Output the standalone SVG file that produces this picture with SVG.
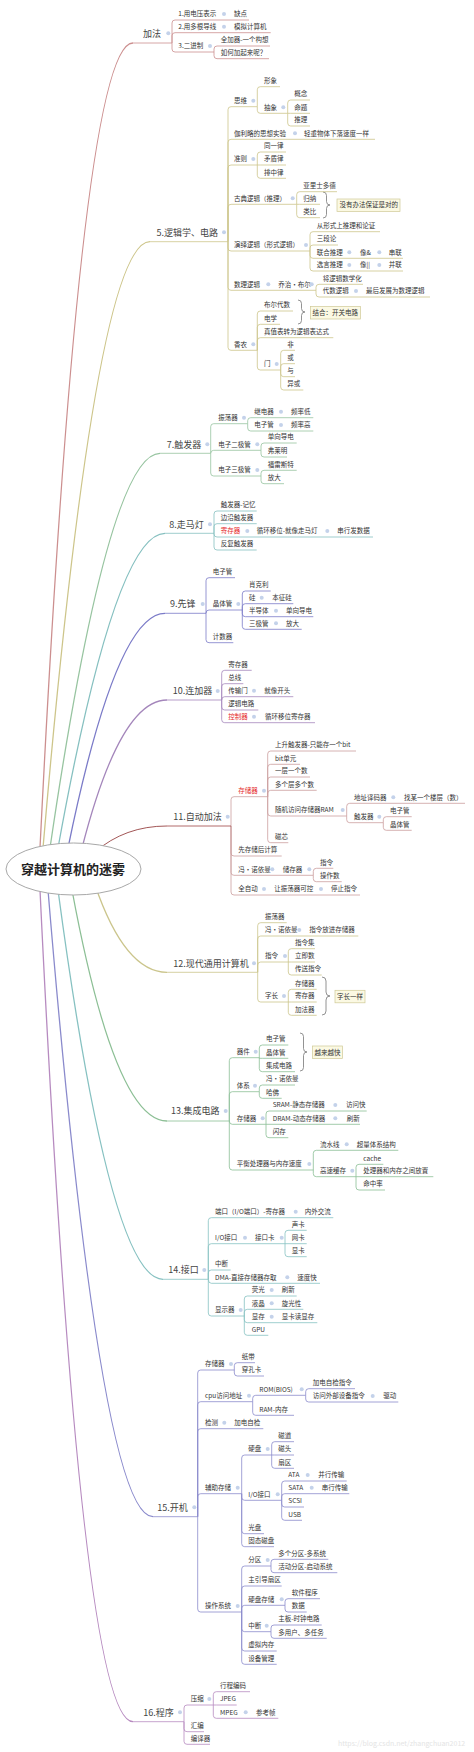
<svg xmlns="http://www.w3.org/2000/svg" width="474" height="1752" viewBox="0 0 474 1752">
<style>
text{font-family:"Noto Sans CJK SC","Noto Sans",sans-serif;font-size:6.5px;fill:#333;stroke:none}
.b{font-size:9px;fill:#444}
.red{fill:#e5281f}
.d{fill:#c4d2ea;stroke:none}
path{fill:none;stroke-width:.8}
.c{stroke-width:1.3}
.k1{stroke:#cc8f8f}.k5{stroke:#cdc58a}.k7{stroke:#97c4a0}.k8{stroke:#86c0c0}.k9{stroke:#7b7bc8}.k10{stroke:#a486bb}
.k11{stroke:#cc9e9e}.k12{stroke:#cbc58c}.k13{stroke:#8cbf95}.k14{stroke:#86c1c1}.k15{stroke:#8a8acc}.k16{stroke:#b78bc0}
.br{stroke:#777}
.bx{fill:#fbf9e3;stroke:#cfc996;stroke-width:.7}
</style>
<rect width="474" height="1752" fill="#fff"/>
<g id="connectors">
<g id="main-curves" class="c">
<path class="k1 c" d="M40 848Q80 43 133 43"/>
<path class="k5 c" d="M43 848Q95 241.7 150 241.7"/>
<path class="k7 c" d="M50 848Q108 453.3 160 453.3"/>
<path class="k8 c" d="M58 848Q115 533.3 165 533.3"/>
<path class="k9 c" d="M68 848Q116 613.3 165 613.3"/>
<path class="k10 c" d="M82 848Q120 700 167 700"/>
<path d="M95 852Q125 826 167 826" stroke="#8a2b2b" stroke-width="2.5"/>
<path class="k12 c" d="M95 885Q125 972.3 167 972.3"/>
<path class="k13 c" d="M72 890Q115 1121 167 1121"/>
<path class="k14 c" d="M58 890Q110 1279.3 163 1279.3"/>
<path class="k15 c" d="M48 890Q100 1516.7 153 1516.7"/>
<path class="k16 c" d="M40 890Q80 1721.7 133 1721.7"/>
</g>
<g class="k1">
<path d="M172 43V23Q172 20 175 20M172 43V35.7Q172 32.7 175 32.7M172 43V49Q172 52 175 52"/>
<path d="M214 52V49Q214 46 217 46M214 52V55.7Q214 58.7 217 58.7"/>
</g>
<g class="k5">
<path d="M228 241.7V109.7Q228 106.7 231 106.7M228 241.7V142.3Q228 139.3 231 139.3M228 241.7V168Q228 165 231 165M228 241.7V207.3Q228 204.3 231 204.3M228 241.7V248Q228 251 231 251M228 241.7V287.3Q228 290.3 231 290.3M228 241.7V347.3Q228 350.3 231 350.3"/>
<path d="M257.3 106.7V89.7Q257.3 86.7 260.3 86.7M257.3 106.7V110.3Q257.3 113.3 260.3 113.3"/>
<path d="M287.7 113.3V103Q287.7 100 290.7 100M287.7 113.3H290.7M287.7 113.3V123Q287.7 126 290.7 126"/>
<path d="M257.3 165V155Q257.3 152 260.3 152M257.3 165H260.3M257.3 165V175.3Q257.3 178.3 260.3 178.3"/>
<path d="M296.7 204.3V194.7Q296.7 191.7 299.7 191.7M296.7 204.3H299.7M296.7 204.3V214.7Q296.7 217.7 299.7 217.7"/>
<path d="M310 251V234.7Q310 231.7 313 231.7M310 251V248Q310 245 313 245M310 251V255.3Q310 258.3 313 258.3M310 251V268Q310 271 313 271"/>
<path d="M316 290.3V287.3Q316 284.3 319 284.3M316 290.3V294Q316 297 319 297"/>
<path d="M257.3 350.3V314Q257.3 311 260.3 311M257.3 350.3V327.3Q257.3 324.3 260.3 324.3M257.3 350.3V340.7Q257.3 337.7 260.3 337.7M257.3 350.3V367Q257.3 370 260.3 370"/>
<path d="M280.7 370V353.3Q280.7 350.3 283.7 350.3M280.7 370V366.7Q280.7 363.7 283.7 363.7M280.7 370V373.7Q280.7 376.7 283.7 376.7M280.7 370V387Q280.7 390 283.7 390"/>
</g>
<g class="k7">
<path d="M210.7 453.3V426.7Q210.7 423.7 213.7 423.7M210.7 453.3Q210.7 450.3 213.7 450.3M210.7 453.3V473Q210.7 476 213.7 476"/>
<path d="M247.7 423.7V420.7Q247.7 417.7 250.7 417.7M247.7 423.7V428Q247.7 431 250.7 431"/>
<path d="M261 450.3V446Q261 443 264 443M261 450.3V454Q261 457 264 457"/>
<path d="M261 476V473.3Q261 470.3 264 470.3M261 476V480.7Q261 483.7 264 483.7"/>
</g>
<g class="k8">
<path d="M214 533.3V514Q214 511 217 511M214 533.3V526.7Q214 523.7 217 523.7M214 533.3V534Q214 537 217 537M214 533.3V547Q214 550 217 550"/>
</g>
<g class="k9">
<path d="M206 613.3V580.7Q206 577.7 209 577.7M206 613.3Q206 610 209 610M206 613.3V639.7Q206 642.7 209 642.7"/>
<path d="M242.3 610V594Q242.3 591 245.3 591M242.3 610V606.7Q242.3 603.7 245.3 603.7M242.3 610V613.7Q242.3 616.7 245.3 616.7M242.3 610V626.3Q242.3 629.3 245.3 629.3"/>
</g>
<g class="k10">
<path d="M221.7 700V673.3Q221.7 670.3 224.7 670.3M221.7 700V686.7Q221.7 683.7 224.7 683.7M221.7 700Q221.7 696.7 224.7 696.7M221.7 700V707Q221.7 710 224.7 710M221.7 700V719.7Q221.7 722.7 224.7 722.7"/>
</g>
<g class="k11">
<path d="M231 826V799.7Q231 796.7 234 796.7M231 826V853Q231 856 234 856M231 826V872.3Q231 875.3 234 875.3M231 826V892Q231 895 234 895"/>
<path d="M267.7 796.7V754Q267.7 751 270.7 751M267.7 796.7V767.3Q267.7 764.3 270.7 764.3M267.7 796.7V780Q267.7 777 270.7 777M267.7 796.7V793.3Q267.7 790.3 270.7 790.3M267.7 796.7V813Q267.7 816 270.7 816M267.7 796.7V839.7Q267.7 842.7 270.7 842.7"/>
<path d="M346.7 816V806.3Q346.7 803.3 349.7 803.3M346.7 816V819.7Q346.7 822.7 349.7 822.7"/>
<path d="M383.3 822.7V819.7Q383.3 816.7 386.3 816.7M383.3 822.7V827.3Q383.3 830.3 386.3 830.3"/>
<path d="M313.3 875.3V871.3Q313.3 868.3 316.3 868.3M313.3 875.3V878.7Q313.3 881.7 316.3 881.7"/>
</g>
<g class="k12">
<path d="M257.7 972.3V925.7Q257.7 922.7 260.7 922.7M257.7 972.3V939Q257.7 936 260.7 936M257.7 972.3V965Q257.7 962 260.7 962M257.7 972.3V999Q257.7 1002 260.7 1002"/>
<path d="M288.3 962V951.7Q288.3 948.7 291.3 948.7M288.3 962H291.3M288.3 962V972Q288.3 975 291.3 975"/>
<path d="M288.3 1002V992.3Q288.3 989.3 291.3 989.3M288.3 1002H291.3M288.3 1002V1012.3Q288.3 1015.3 291.3 1015.3"/>
</g>
<g class="k13">
<path d="M229.3 1121V1060.7Q229.3 1057.7 232.3 1057.7M229.3 1121V1094.7Q229.3 1091.7 232.3 1091.7M229.3 1121Q229.3 1124.3 232.3 1124.3M229.3 1121V1167Q229.3 1170 232.3 1170"/>
<path d="M259.3 1057.7V1048Q259.3 1045 262.3 1045M259.3 1057.7V1058.3H262.3M259.3 1057.7V1068.7Q259.3 1071.7 262.3 1071.7"/>
<path d="M259.3 1091.7V1088Q259.3 1085 262.3 1085M259.3 1091.7V1095.3Q259.3 1098.3 262.3 1098.3"/>
<path d="M266 1124.3V1114Q266 1111 269 1111M266 1124.3H269M266 1124.3V1134.7Q266 1137.7 269 1137.7"/>
<path d="M313.3 1170V1153.3Q313.3 1150.3 316.3 1150.3M313.3 1170V1173.7Q313.3 1176.7 316.3 1176.7"/>
<path d="M356 1176.7V1167.3Q356 1164.3 359 1164.3M356 1176.7H359M356 1176.7V1187Q356 1190 359 1190"/>
</g>
<g class="k14">
<path d="M208.3 1279.3V1220.7Q208.3 1217.7 211.3 1217.7M208.3 1279.3V1246.7Q208.3 1243.7 211.3 1243.7M208.3 1279.3V1273Q208.3 1270 211.3 1270M208.3 1279.3Q208.3 1283.3 211.3 1283.3M208.3 1279.3V1313Q208.3 1316 211.3 1316"/>
<path d="M285 1243.7V1233.3Q285 1230.3 288 1230.3M285 1243.7H288M285 1243.7V1253.7Q285 1256.7 288 1256.7"/>
<path d="M244.3 1316V1299Q244.3 1296 247.3 1296M244.3 1316V1312.3Q244.3 1309.3 247.3 1309.3M244.3 1316V1319.7Q244.3 1322.7 247.3 1322.7M244.3 1316V1332.3Q244.3 1335.3 247.3 1335.3"/>
</g>
<g class="k15">
<path d="M197.7 1516.7V1373Q197.7 1370 200.7 1370M197.7 1516.7V1404.7Q197.7 1401.7 200.7 1401.7M197.7 1516.7V1431.7Q197.7 1428.7 200.7 1428.7M197.7 1516.7V1496.7Q197.7 1493.7 200.7 1493.7M197.7 1516.7V1609Q197.7 1612 200.7 1612"/>
<path d="M234.3 1370V1365.7Q234.3 1362.7 237.3 1362.7M234.3 1370V1373Q234.3 1376 237.3 1376"/>
<path d="M252.7 1401.7V1398.3Q252.7 1395.3 255.7 1395.3M252.7 1401.7V1412.3Q252.7 1415.3 255.7 1415.3"/>
<path d="M305.7 1395.3V1391.7Q305.7 1388.7 308.7 1388.7M305.7 1395.3V1399Q305.7 1402 308.7 1402"/>
<path d="M241.7 1493.7V1458Q241.7 1455 244.7 1455M241.7 1493.7V1497.3Q241.7 1500.3 244.7 1500.3M241.7 1493.7V1530.7Q241.7 1533.7 244.7 1533.7M241.7 1493.7V1543.7Q241.7 1546.7 244.7 1546.7"/>
<path d="M271.7 1455V1444.7Q271.7 1441.7 274.7 1441.7M271.7 1455H274.7M271.7 1455V1465.3Q271.7 1468.3 274.7 1468.3"/>
<path d="M281.7 1500.3V1484Q281.7 1481 284.7 1481M281.7 1500.3V1496.7Q281.7 1493.7 284.7 1493.7M281.7 1500.3V1504Q281.7 1507 284.7 1507M281.7 1500.3V1517.3Q281.7 1520.3 284.7 1520.3"/>
<path d="M241.7 1612V1569Q241.7 1566 244.7 1566M241.7 1612V1589Q241.7 1586 244.7 1586M241.7 1612V1608.3Q241.7 1605.3 244.7 1605.3M241.7 1612V1628.7Q241.7 1631.7 244.7 1631.7M241.7 1612V1648Q241.7 1651 244.7 1651M241.7 1612V1661.3Q241.7 1664.3 244.7 1664.3"/>
<path d="M271 1566V1562.3Q271 1559.3 274 1559.3M271 1566V1569.7Q271 1572.7 274 1572.7"/>
<path d="M285 1605.3V1601.7Q285 1598.7 288 1598.7M285 1605.3V1609Q285 1612 288 1612"/>
<path d="M271 1631.7V1628Q271 1625 274 1625M271 1631.7V1635.3Q271 1638.3 274 1638.3"/>
</g>
<g class="k16">
<path d="M184 1721.7V1708Q184 1705 187 1705M184 1721.7V1728.7Q184 1731.7 187 1731.7M184 1721.7V1741.3Q184 1744.3 187 1744.3"/>
<path d="M213.3 1705V1694.7Q213.3 1691.7 216.3 1691.7M213.3 1705H216.3M213.3 1705V1715.3Q213.3 1718.3 216.3 1718.3"/>
</g>
<g id="braces" class="br">
<path d="M323 192Q326.5 192 326.5 195.5V201.5Q326.5 205 330 205Q326.5 205 326.5 208.5V214.5Q326.5 218 323 218"/>
<path d="M298 300Q301.5 300 301.5 303.5V308.5Q301.5 312 305 312Q301.5 312 301.5 315.5V320.5Q301.5 324 298 324"/>
<path d="M322 977Q326 977 326 981V992Q326 996 330 996Q326 996 326 1000V1011Q326 1015 322 1015"/>
<path d="M300 1033Q303.5 1033 303.5 1036.5V1048.5Q303.5 1052 307 1052Q303.5 1052 303.5 1055.5V1067.5Q303.5 1071 300 1071"/>
</g>
</g>
<g id="root">
<ellipse cx="73.5" cy="869" rx="67.5" ry="26" fill="#fff" stroke="#a8a8a8" stroke-width="1"/>
<text x="73" y="874" text-anchor="middle" style="font-size:13px;font-weight:bold;fill:#222">穿越计算机的迷雾</text>
</g>
<g class="k1">
<g id="n1"><text class="b" x="143" y="36.6">加法</text><path d="M133 43H172"/><circle class="d" cx="168.3" cy="33.3" r="2"/></g>
<g id="n1-1"><text x="178.3" y="16.4">1.用电压表示</text><path d="M175 20H231"/><circle class="d" cx="224" cy="14" r="2"/></g>
<g id="n1-1-1"><text x="234" y="16.4">缺点</text><path d="M231 20H249"/></g>
<g id="n1-2"><text x="178.3" y="29.1">2.用多根导线</text><path d="M175 32.7H231"/><circle class="d" cx="224" cy="26.7" r="2"/></g>
<g id="n1-2-1"><text x="234" y="29.1">模拟计算机</text><path d="M231 32.7H270.7"/></g>
<g id="n1-3"><text x="178.3" y="48.4">3.二进制</text><path d="M175 52H214"/><circle class="d" cx="210" cy="46" r="2"/></g>
<g id="n1-3-1"><text x="220.7" y="42.4">全加器-一个构想</text><path d="M217 46H270"/></g>
<g id="n1-3-2"><text x="220.7" y="55.1">如何加起来呢？</text><path d="M217 58.7H269"/></g>
</g>
<g class="k5">
<g id="n5"><text class="b" x="156.5" y="235.6">5.逻辑学、电路</text><path d="M150 241.7H228"/><circle class="d" cx="224" cy="232.3" r="2"/></g>
<g id="n5-1"><text x="234" y="103.1">思维</text><path d="M231 106.7H257.3"/><circle class="d" cx="253.3" cy="100.7" r="2"/></g>
<g id="n5-1-1"><text x="264" y="83.1">形象</text><path d="M260.3 86.7H280"/></g>
<g id="n5-1-2"><text x="264" y="109.7">抽象</text><path d="M260.3 113.3H287.7"/><circle class="d" cx="283.3" cy="107.3" r="2"/></g>
<g id="n5-1-2-1"><text x="294.3" y="96.4">概念</text><path d="M290.7 100H310"/></g>
<g id="n5-1-2-2"><text x="294.3" y="109.7">命题</text><path d="M290.7 113.3H310"/></g>
<g id="n5-1-2-3"><text x="294.3" y="122.4">推理</text><path d="M290.7 126H310"/></g>
<g id="n5-2"><text x="234" y="135.7">伽利略的思想实验</text><path d="M231 139.3H302"/><circle class="d" cx="295" cy="133.3" r="2"/></g>
<g id="n5-2-1"><text x="304" y="135.7">轻重物体下落速度一样</text><path d="M302 139.3H375"/></g>
<g id="n5-3"><text x="234" y="161.4">准则</text><path d="M231 165H257.3"/><circle class="d" cx="253.3" cy="159" r="2"/></g>
<g id="n5-3-1"><text x="264" y="148.4">同一律</text><path d="M260.3 152H286"/></g>
<g id="n5-3-2"><text x="264" y="161.4">矛盾律</text><path d="M260.3 165H286"/></g>
<g id="n5-3-3"><text x="264" y="174.7">排中律</text><path d="M260.3 178.3H286"/></g>
<g id="n5-4"><text x="234" y="200.7">古典逻辑（推理）</text><path d="M231 204.3H296.7"/><circle class="d" cx="292.7" cy="198.3" r="2"/></g>
<g id="n5-4-1"><text x="303.3" y="188.1">亚里士多德</text><path d="M299.7 191.7H337"/></g>
<g id="n5-4-2"><text x="303.3" y="200.7">归纳</text><path d="M299.7 204.3H320"/></g>
<g id="n5-4-3"><text x="303.3" y="214.1">类比</text><path d="M299.7 217.7H320"/></g>
<g id="n5-4-s"><rect class="bx" x="337" y="199" width="63" height="12.5"/><text x="339.5" y="207.4">没有办法保证是对的</text></g>
<g id="n5-5"><text x="234" y="247.4">演绎逻辑（形式逻辑）</text><path d="M231 251H310"/><circle class="d" cx="306" cy="245" r="2"/></g>
<g id="n5-5-1"><text x="316.7" y="228.1">从形式上推理和论证</text><path d="M313 231.7H380"/></g>
<g id="n5-5-2"><text x="316.7" y="241.4">三段论</text><path d="M313 245H338"/></g>
<g id="n5-5-3"><text x="316.7" y="254.7">联合推理</text><path d="M313 258.3H358"/><circle class="d" cx="349.3" cy="252.3" r="2"/></g>
<g id="n5-5-3-1"><text x="360" y="254.7">像&amp;</text><path d="M358 258.3H386"/><circle class="d" cx="379.3" cy="252.3" r="2"/></g>
<g id="n5-5-3-1-1"><text x="388.7" y="254.7">串联</text><path d="M386 258.3H403"/></g>
<g id="n5-5-4"><text x="316.7" y="267.4">选言推理</text><path d="M313 271H358"/><circle class="d" cx="349.3" cy="265" r="2"/></g>
<g id="n5-5-4-1"><text x="360" y="267.4">像||</text><path d="M358 271H386"/><circle class="d" cx="379.3" cy="265" r="2"/></g>
<g id="n5-5-4-1-1"><text x="388.7" y="267.4">并联</text><path d="M386 271H403"/></g>
<g id="n5-6"><text x="234" y="286.7">数理逻辑</text><path d="M231 290.3H276"/><circle class="d" cx="268.3" cy="284.3" r="2"/></g>
<g id="n5-6-1"><text x="278.3" y="286.7">乔治·布尔</text><path d="M276 290.3H316"/><circle class="d" cx="311.7" cy="284.3" r="2"/></g>
<g id="n5-6-1-1"><text x="322.7" y="280.7">将逻辑数学化</text><path d="M319 284.3H363"/></g>
<g id="n5-6-1-2"><text x="322.7" y="293.4">代数逻辑</text><path d="M319 297H364"/><circle class="d" cx="356" cy="291" r="2"/></g>
<g id="n5-6-1-2-1"><text x="366" y="293.4">最后发展为数理逻辑</text><path d="M364 297H430"/></g>
<g id="n5-7"><text x="234" y="346.7">香农</text><path d="M231 350.3H257.3"/><circle class="d" cx="253.3" cy="344.3" r="2"/></g>
<g id="n5-7-1"><text x="264" y="307.4">布尔代数</text><path d="M260.3 311H293"/></g>
<g id="n5-7-2"><text x="264" y="320.7">电学</text><path d="M260.3 324.3H280"/></g>
<g id="n5-7-s"><rect class="bx" x="310.5" y="306.5" width="50" height="12.5"/><text x="312.5" y="315.1">结合：开关电路</text></g>
<g id="n5-7-3"><text x="264" y="334.1">真值表转为逻辑表达式</text><path d="M260.3 337.7H333.3"/></g>
<g id="n5-7-4"><text x="264" y="366.4">门</text><path d="M260.3 370H280.7"/><circle class="d" cx="276.7" cy="364" r="2"/></g>
<g id="n5-7-4-1"><text x="287.3" y="346.7">非</text><path d="M283.7 350.3H295"/></g>
<g id="n5-7-4-2"><text x="287.3" y="360.1">或</text><path d="M283.7 363.7H295"/></g>
<g id="n5-7-4-3"><text x="287.3" y="373.1">与</text><path d="M283.7 376.7H295"/></g>
<g id="n5-7-4-4"><text x="287.3" y="386.4">异或</text><path d="M283.7 390H303.3"/></g>
</g>
<g class="k7">
<g id="n7"><text class="b" x="166.7" y="447.6">7.触发器</text><path d="M160 453.3H210.7"/><circle class="d" cx="207.3" cy="444.3" r="2"/></g>
<g id="n7-1"><text x="218.3" y="420.1">振荡器</text><path d="M213.7 423.7H247.7"/><circle class="d" cx="244" cy="417.7" r="2"/></g>
<g id="n7-1-1"><text x="254.3" y="414.1">继电器</text><path d="M250.7 417.7H289"/><circle class="d" cx="281" cy="411.7" r="2"/></g>
<g id="n7-1-1-1"><text x="291" y="414.1">频率低</text><path d="M289 417.7H313.3"/></g>
<g id="n7-1-2"><text x="254.3" y="427.4">电子管</text><path d="M250.7 431H289"/><circle class="d" cx="281" cy="425" r="2"/></g>
<g id="n7-1-2-1"><text x="291" y="427.4">频率高</text><path d="M289 431H313.3"/></g>
<g id="n7-2"><text x="218.3" y="446.7">电子二极管</text><path d="M213.7 450.3H261"/><circle class="d" cx="257.3" cy="444.3" r="2"/></g>
<g id="n7-2-1"><text x="267.7" y="439.4">单向导电</text><path d="M264 443H296.7"/></g>
<g id="n7-2-2"><text x="267.7" y="453.4">弗莱明</text><path d="M264 457H287"/></g>
<g id="n7-3"><text x="218.3" y="472.4">电子三极管</text><path d="M213.7 476H261"/><circle class="d" cx="257.3" cy="470" r="2"/></g>
<g id="n7-3-1"><text x="267.7" y="466.7">福雷斯特</text><path d="M264 470.3H296.7"/></g>
<g id="n7-3-2"><text x="267.7" y="480.1">放大</text><path d="M264 483.7H284"/></g>
</g>
<g class="k8">
<g id="n8"><text class="b" x="169.3" y="527.6">8.走马灯</text><path d="M165 533.3H214"/><circle class="d" cx="210" cy="524.3" r="2"/></g>
<g id="n8-1"><text x="220.7" y="507.4">触发器-记忆</text><path d="M217 511H256.7"/></g>
<g id="n8-2"><text x="220.7" y="520.1">边沿触发器</text><path d="M217 523.7H256.7"/></g>
<g id="n8-3"><text class="red" x="220.7" y="533.4">寄存器</text><path d="M217 537H255"/><circle class="d" cx="247.3" cy="531" r="2"/></g>
<g id="n8-3-1"><text x="256.7" y="533.4">循环移位-就像走马灯</text><path d="M255 537H335"/><circle class="d" cx="327.3" cy="531" r="2"/></g>
<g id="n8-3-1-1"><text x="337.3" y="533.4">串行发数据</text><path d="M335 537H373"/></g>
<g id="n8-4"><text x="220.7" y="546.4">反复触发器</text><path d="M217 550H256.7"/></g>
</g>
<g class="k9">
<g id="n9"><text class="b" x="170" y="607.3">9.先锋</text><path d="M165 613.3H206"/><circle class="d" cx="202.7" cy="604" r="2"/></g>
<g id="n9-1"><text x="212.7" y="574.1">电子管</text><path d="M209 577.7H235"/></g>
<g id="n9-2"><text x="212.7" y="606.4">晶体管</text><path d="M209 610H242.3"/><circle class="d" cx="238.3" cy="604" r="2"/></g>
<g id="n9-2-1"><text x="249" y="587.4">肖克利</text><path d="M245.3 591H270.7"/></g>
<g id="n9-2-2"><text x="249" y="600.1">硅</text><path d="M245.3 603.7H270"/><circle class="d" cx="261.7" cy="597.7" r="2"/></g>
<g id="n9-2-2-1"><text x="272.3" y="600.1">本征硅</text><path d="M270 603.7H293.3"/></g>
<g id="n9-2-3"><text x="249" y="613.1">半导体</text><path d="M245.3 616.7H284"/><circle class="d" cx="276" cy="610.7" r="2"/></g>
<g id="n9-2-3-1"><text x="286" y="613.1">单向导电</text><path d="M284 616.7H313.3"/></g>
<g id="n9-2-4"><text x="249" y="625.7">三极管</text><path d="M245.3 629.3H284"/><circle class="d" cx="276" cy="623.3" r="2"/></g>
<g id="n9-2-4-1"><text x="286" y="625.7">放大</text><path d="M284 629.3H301.7"/></g>
<g id="n9-3"><text x="212.7" y="639.1">计数器</text><path d="M209 642.7H233.3"/></g>
</g>
<g class="k10">
<g id="n10"><text class="b" x="172.7" y="694.3">10.连加器</text><path d="M167 700H221.7"/><circle class="d" cx="217.7" cy="691" r="2"/></g>
<g id="n10-1"><text x="228.3" y="666.7">寄存器</text><path d="M224.7 670.3H251.7"/></g>
<g id="n10-2"><text x="228.3" y="680.1">总线</text><path d="M224.7 683.7H243.3"/></g>
<g id="n10-3"><text x="228.3" y="693.1">传输门</text><path d="M224.7 696.7H262"/><circle class="d" cx="254" cy="690.7" r="2"/></g>
<g id="n10-3-1"><text x="264.3" y="693.1">就像开头</text><path d="M262 696.7H293.3"/></g>
<g id="n10-4"><text x="228.3" y="706.4">逻辑电路</text><path d="M224.7 710H258.3"/></g>
<g id="n10-5"><text class="red" x="228.3" y="719.1">控制器</text><path d="M224.7 722.7H263"/><circle class="d" cx="254" cy="716.7" r="2"/></g>
<g id="n10-5-1"><text x="265" y="719.1">循环移位寄存器</text><path d="M263 722.7H315"/></g>
</g>
<g class="k11">
<g id="n11"><text class="b" x="173.3" y="820">11.自动加法</text><path d="M167 826H231" stroke="#a04545" stroke-width="1.2"/><circle class="d" cx="227.7" cy="816.7" r="2"/></g>
<g id="n11-1"><text class="red" x="238.3" y="793.1">存储器</text><path d="M234 796.7H267.7"/><circle class="d" cx="264" cy="790.7" r="2"/></g>
<g id="n11-1-1"><text x="275" y="747.4">上升触发器-只能存一个bit</text><path d="M270.7 751H356"/></g>
<g id="n11-1-2"><text x="275" y="760.7">bit单元</text><path d="M270.7 764.3H300"/></g>
<g id="n11-1-3"><text x="275" y="773.4">一层一个数</text><path d="M270.7 777H310"/></g>
<g id="n11-1-4"><text x="275" y="786.7">多个层多个数</text><path d="M270.7 790.3H316.7"/></g>
<g id="n11-1-5"><text x="275" y="812.4">随机访问存储器RAM</text><path d="M270.7 816H346.7"/><circle class="d" cx="342.7" cy="810" r="2"/></g>
<g id="n11-1-5-1"><text x="354" y="799.7">地址译码器</text><path d="M349.7 803.3H402"/><circle class="d" cx="393.3" cy="797.3" r="2"/></g>
<g id="n11-1-5-1-1"><text x="404" y="799.7">找某一个楼层（数）</text><path d="M402 803.3H465"/></g>
<g id="n11-1-5-2"><text x="354" y="819.1">触发器</text><path d="M349.7 822.7H383.3"/><circle class="d" cx="379.3" cy="816.7" r="2"/></g>
<g id="n11-1-5-2-1"><text x="390" y="813.1">电子管</text><path d="M386.3 816.7H411.7"/></g>
<g id="n11-1-5-2-2"><text x="390" y="826.7">晶体管</text><path d="M386.3 830.3H411.7"/></g>
<g id="n11-1-6"><text x="275" y="839.1">磁芯</text><path d="M270.7 842.7H288.3"/></g>
<g id="n11-2"><text x="238.3" y="852.4">先存储后计算</text><path d="M234 856H281.7"/></g>
<g id="n11-3"><text x="238.3" y="871.7">冯·诺依曼</text><path d="M234 875.3H280"/><circle class="d" cx="272.3" cy="869.3" r="2"/></g>
<g id="n11-3-1"><text x="282.7" y="871.7">储存器</text><path d="M280 875.3H313.3"/><circle class="d" cx="309.3" cy="869.3" r="2"/></g>
<g id="n11-3-1-1"><text x="320" y="864.7">指令</text><path d="M316.3 868.3H333.3"/></g>
<g id="n11-3-1-2"><text x="320" y="878.1">操作数</text><path d="M316.3 881.7H341.7"/></g>
<g id="n11-4"><text x="238.3" y="891.4">全自动</text><path d="M234 895H272"/><circle class="d" cx="264" cy="889" r="2"/></g>
<g id="n11-4-1"><text x="274.3" y="891.4">让振荡器可控</text><path d="M272 895H329"/><circle class="d" cx="321" cy="889" r="2"/></g>
<g id="n11-4-1-1"><text x="331" y="891.4">停止指令</text><path d="M329 895H360"/></g>
</g>
<g class="k12">
<g id="n12"><text class="b" x="173.3" y="966.6">12.现代通用计算机</text><path d="M167 972.3H257.7"/><circle class="d" cx="254" cy="963.3" r="2"/></g>
<g id="n12-1"><text x="265" y="919.1">振荡器</text><path d="M260.7 922.7H286.7"/></g>
<g id="n12-2"><text x="265" y="932.4">冯·诺依曼</text><path d="M260.7 936H307"/><circle class="d" cx="299.3" cy="930" r="2"/></g>
<g id="n12-2-1"><text x="309.3" y="932.4">指令放进存储器</text><path d="M307 936H358.3"/></g>
<g id="n12-3"><text x="265" y="958.4">指令</text><path d="M260.7 962H288.3"/><circle class="d" cx="285" cy="956" r="2"/></g>
<g id="n12-3-1"><text x="295" y="945.1">指令集</text><path d="M291.3 948.7H315"/></g>
<g id="n12-3-2"><text x="295" y="958.4">立即数</text><path d="M291.3 962H315"/></g>
<g id="n12-3-3"><text x="295" y="971.4">传送指令</text><path d="M291.3 975H321.7"/></g>
<g id="n12-4"><text x="265" y="998.4">字长</text><path d="M260.7 1002H288.3"/><circle class="d" cx="284" cy="996" r="2"/></g>
<g id="n12-4-1"><text x="295" y="985.7">存储器</text><path d="M291.3 989.3H316.7"/></g>
<g id="n12-4-2"><text x="295" y="998.4">寄存器</text><path d="M291.3 1002H316.7"/></g>
<g id="n12-4-3"><text x="295" y="1011.7">加法器</text><path d="M291.3 1015.3H316.7"/></g>
<g id="n12-4-s"><rect class="bx" x="335" y="990.3" width="30" height="12.5"/><text x="337" y="999">字长一样</text></g>
</g>
<g class="k13">
<g id="n13"><text class="b" x="171" y="1114.3">13.集成电路</text><path d="M167 1121H229.3"/><circle class="d" cx="225.7" cy="1111" r="2"/></g>
<g id="n13-1"><text x="236.7" y="1054.1">器件</text><path d="M232.3 1057.7H259.3"/><circle class="d" cx="255.7" cy="1051.7" r="2"/></g>
<g id="n13-1-1"><text x="266" y="1041.4">电子管</text><path d="M262.3 1045H288.3"/></g>
<g id="n13-1-2"><text x="266" y="1054.7">晶体管</text><path d="M262.3 1058.3H288.3"/></g>
<g id="n13-1-3"><text x="266" y="1068.1">集成电路</text><path d="M262.3 1071.7H295"/></g>
<g id="n13-1-s"><rect class="bx" x="312.5" y="1046" width="30" height="12.5"/><text x="314.5" y="1054.7">越来越快</text></g>
<g id="n13-2"><text x="236.7" y="1088.1">体系</text><path d="M232.3 1091.7H259.3"/><circle class="d" cx="255" cy="1085.7" r="2"/></g>
<g id="n13-2-1"><text x="266" y="1081.4">冯·诺依曼</text><path d="M262.3 1085H295"/></g>
<g id="n13-2-2"><text x="266" y="1094.7">哈佛</text><path d="M262.3 1098.3H281.7"/></g>
<g id="n13-3"><text x="236.7" y="1120.7">存储器</text><path d="M232.3 1124.3H266"/><circle class="d" cx="262.7" cy="1118.3" r="2"/></g>
<g id="n13-3-1"><text x="272.7" y="1107.4">SRAM-静态存储器</text><path d="M269 1111H344"/><circle class="d" cx="335.3" cy="1105" r="2"/></g>
<g id="n13-3-1-1"><text x="346" y="1107.4">访问快</text><path d="M344 1111H366.7"/></g>
<g id="n13-3-2"><text x="272.7" y="1120.7">DRAM-动态存储器</text><path d="M269 1124.3H344"/><circle class="d" cx="335.3" cy="1118.3" r="2"/></g>
<g id="n13-3-2-1"><text x="346.7" y="1120.7">刷新</text><path d="M344 1124.3H360"/></g>
<g id="n13-3-3"><text x="272.7" y="1134.1">闪存</text><path d="M269 1137.7H288.3"/></g>
<g id="n13-4"><text x="236.7" y="1166.4">平衡处理器与内存速度</text><path d="M232.3 1170H313.3"/><circle class="d" cx="309.3" cy="1164" r="2"/></g>
<g id="n13-4-1"><text x="320" y="1146.7">流水线</text><path d="M316.3 1150.3H355"/><circle class="d" cx="346.7" cy="1144.3" r="2"/></g>
<g id="n13-4-1-1"><text x="356.7" y="1146.7">超量体系结构</text><path d="M355 1150.3H398.3"/></g>
<g id="n13-4-2"><text x="320" y="1173.1">高速缓存</text><path d="M316.3 1176.7H356"/><circle class="d" cx="352.3" cy="1170.7" r="2"/></g>
<g id="n13-4-2-1"><text x="363.3" y="1160.7">cache</text><path d="M359 1164.3H383.3"/></g>
<g id="n13-4-2-2"><text x="363.3" y="1173.1">处理器和内存之间放置</text><path d="M359 1176.7H433.3"/></g>
<g id="n13-4-2-3"><text x="363.3" y="1186.4">命中率</text><path d="M359 1190H385"/></g>
</g>
<g class="k14">
<g id="n14"><text class="b" x="168.3" y="1273.3">14.接口</text><path d="M163 1279.3H208.3"/><circle class="d" cx="204.3" cy="1270" r="2"/></g>
<g id="n14-1"><text x="215" y="1214.1">端口（I/O端口）-寄存器</text><path d="M211.3 1217.7H303"/><circle class="d" cx="295.7" cy="1211.7" r="2"/></g>
<g id="n14-1-1"><text x="304.7" y="1214.1">内外交流</text><path d="M303 1217.7H333.3"/></g>
<g id="n14-2"><text x="215" y="1240.1">I/O接口</text><path d="M211.3 1243.7H253"/><circle class="d" cx="245" cy="1237.7" r="2"/></g>
<g id="n14-2-1"><text x="255" y="1240.1">接口卡</text><path d="M253 1243.7H285"/><circle class="d" cx="281.7" cy="1237.7" r="2"/></g>
<g id="n14-2-1-1"><text x="291.7" y="1226.7">声卡</text><path d="M288 1230.3H306.7"/></g>
<g id="n14-2-1-2"><text x="291.7" y="1240.1">网卡</text><path d="M288 1243.7H306.7"/></g>
<g id="n14-2-1-3"><text x="291.7" y="1253.1">显卡</text><path d="M288 1256.7H306.7"/></g>
<g id="n14-3"><text x="215" y="1266.4">中断</text><path d="M211.3 1270H230.7"/></g>
<g id="n14-4"><text x="215" y="1279.7">DMA-直接存储器存取</text><path d="M211.3 1283.3H295"/><circle class="d" cx="287.3" cy="1277.3" r="2"/></g>
<g id="n14-4-1"><text x="297.3" y="1279.7">速度快</text><path d="M295 1283.3H320"/></g>
<g id="n14-5"><text x="215" y="1312.4">显示器</text><path d="M211.3 1316H244.3"/><circle class="d" cx="240.7" cy="1310" r="2"/></g>
<g id="n14-5-1"><text x="251.7" y="1292.4">荧光</text><path d="M247.3 1296H280"/><circle class="d" cx="271.7" cy="1290" r="2"/></g>
<g id="n14-5-1-1"><text x="281.7" y="1292.4">刷新</text><path d="M280 1296H296.7"/></g>
<g id="n14-5-2"><text x="251.7" y="1305.7">液晶</text><path d="M247.3 1309.3H280"/><circle class="d" cx="271.7" cy="1303.3" r="2"/></g>
<g id="n14-5-2-1"><text x="281.7" y="1305.7">旋光性</text><path d="M280 1309.3H303.3"/></g>
<g id="n14-5-3"><text x="251.7" y="1319.1">显存</text><path d="M247.3 1322.7H280"/><circle class="d" cx="271.7" cy="1316.7" r="2"/></g>
<g id="n14-5-3-1"><text x="281.7" y="1319.1">显卡读显存</text><path d="M280 1322.7H317.3"/></g>
<g id="n14-5-4"><text x="251.7" y="1331.7">GPU</text><path d="M247.3 1335.3H268.3"/></g>
</g>
<g class="k15">
<g id="n15"><text class="b" x="157.3" y="1510.6">15.开机</text><path d="M153 1516.7H197.7"/><circle class="d" cx="194.3" cy="1507.3" r="2"/></g>
<g id="n15-1"><text x="205" y="1366.4">存储器</text><path d="M200.7 1370H234.3"/><circle class="d" cx="231" cy="1364" r="2"/></g>
<g id="n15-1-1"><text x="241.7" y="1359.1">纸带</text><path d="M237.3 1362.7H255"/></g>
<g id="n15-1-2"><text x="241.7" y="1372.4">穿孔卡</text><path d="M237.3 1376H264"/></g>
<g id="n15-2"><text x="205" y="1398.1">cpu访问地址</text><path d="M200.7 1401.7H252.7"/><circle class="d" cx="249" cy="1395.7" r="2"/></g>
<g id="n15-2-1"><text x="259.3" y="1391.7">ROM(BIOS)</text><path d="M255.7 1395.3H305.7"/><circle class="d" cx="301.7" cy="1389.3" r="2"/></g>
<g id="n15-2-1-1"><text x="312.7" y="1385.1">加电自检指令</text><path d="M308.7 1388.7H355"/></g>
<g id="n15-2-1-2"><text x="312.7" y="1398.4">访问外部设备指令</text><path d="M308.7 1402H381"/><circle class="d" cx="372.7" cy="1396" r="2"/></g>
<g id="n15-2-1-2-1"><text x="383.3" y="1398.4">驱动</text><path d="M381 1402H398.3"/></g>
<g id="n15-2-2"><text x="259.3" y="1411.7">RAM-内存</text><path d="M255.7 1415.3H294"/></g>
<g id="n15-3"><text x="205" y="1425.1">检测</text><path d="M200.7 1428.7H232"/><circle class="d" cx="224.3" cy="1422.7" r="2"/></g>
<g id="n15-3-1"><text x="234.3" y="1425.1">加电自检</text><path d="M232 1428.7H263.3"/></g>
<g id="n15-4"><text x="205" y="1490.1">辅助存储</text><path d="M200.7 1493.7H241.7"/><circle class="d" cx="237.7" cy="1487.7" r="2"/></g>
<g id="n15-4-1"><text x="248.3" y="1451.4">硬盘</text><path d="M244.7 1455H271.7"/><circle class="d" cx="267.7" cy="1449" r="2"/></g>
<g id="n15-4-1-1"><text x="278.3" y="1438.1">磁道</text><path d="M274.7 1441.7H294"/></g>
<g id="n15-4-1-2"><text x="278.3" y="1451.4">磁头</text><path d="M274.7 1455H294"/></g>
<g id="n15-4-1-3"><text x="278.3" y="1464.7">扇区</text><path d="M274.7 1468.3H294"/></g>
<g id="n15-4-2"><text x="248.3" y="1496.7">I/O接口</text><path d="M244.7 1500.3H281.7"/><circle class="d" cx="277.7" cy="1494.3" r="2"/></g>
<g id="n15-4-2-1"><text x="288.3" y="1477.4">ATA</text><path d="M284.7 1481H316"/><circle class="d" cx="307.7" cy="1475" r="2"/></g>
<g id="n15-4-2-1-1"><text x="318.3" y="1477.4">并行传输</text><path d="M316 1481H346.7"/></g>
<g id="n15-4-2-2"><text x="288.3" y="1490.1">SATA</text><path d="M284.7 1493.7H320"/><circle class="d" cx="311.7" cy="1487.7" r="2"/></g>
<g id="n15-4-2-2-1"><text x="321.7" y="1490.1">串行传输</text><path d="M320 1493.7H349.3"/></g>
<g id="n15-4-2-3"><text x="288.3" y="1503.4">SCSI</text><path d="M284.7 1507H304"/></g>
<g id="n15-4-2-4"><text x="288.3" y="1516.7">USB</text><path d="M284.7 1520.3H302"/></g>
<g id="n15-4-3"><text x="248.3" y="1530.1">光盘</text><path d="M244.7 1533.7H264"/></g>
<g id="n15-4-4"><text x="248.3" y="1543.1">固态磁盘</text><path d="M244.7 1546.7H274"/></g>
<g id="n15-5"><text x="205" y="1608.4">操作系统</text><path d="M200.7 1612H241.7"/><circle class="d" cx="237.7" cy="1606" r="2"/></g>
<g id="n15-5-1"><text x="248.3" y="1562.4">分区</text><path d="M244.7 1566H271"/><circle class="d" cx="267.7" cy="1560" r="2"/></g>
<g id="n15-5-1-1"><text x="278.3" y="1555.7">多个分区-多系统</text><path d="M274 1559.3H328.3"/></g>
<g id="n15-5-1-2"><text x="278.3" y="1569.1">活动分区-启动系统</text><path d="M274 1572.7H337.3"/></g>
<g id="n15-5-2"><text x="248.3" y="1582.4">主引导扇区</text><path d="M244.7 1586H281.7"/></g>
<g id="n15-5-3"><text x="248.3" y="1601.7">硬盘存储</text><path d="M244.7 1605.3H285"/><circle class="d" cx="281.7" cy="1599.3" r="2"/></g>
<g id="n15-5-3-1"><text x="291.7" y="1595.1">软件程序</text><path d="M288 1598.7H320"/></g>
<g id="n15-5-3-2"><text x="291.7" y="1608.4">数据</text><path d="M288 1612H306.7"/></g>
<g id="n15-5-4"><text x="248.3" y="1628.1">中断</text><path d="M244.7 1631.7H271"/><circle class="d" cx="266.7" cy="1625.7" r="2"/></g>
<g id="n15-5-4-1"><text x="278.3" y="1621.4">主板-时钟电路</text><path d="M274 1625H321.7"/></g>
<g id="n15-5-4-2"><text x="278.3" y="1634.7">多用户、多任务</text><path d="M274 1638.3H326.7"/></g>
<g id="n15-5-5"><text x="248.3" y="1647.4">虚拟内存</text><path d="M244.7 1651H276.7"/></g>
<g id="n15-5-6"><text x="248.3" y="1660.7">设备管理</text><path d="M244.7 1664.3H276.7"/></g>
</g>
<g class="k16">
<g id="n16"><text class="b" x="143.3" y="1715.6">16.程序</text><path d="M133 1721.7H184"/><circle class="d" cx="180" cy="1712.3" r="2"/></g>
<g id="n16-1"><text x="190.7" y="1701.4">压缩</text><path d="M187 1705H213.3"/><circle class="d" cx="209.3" cy="1699" r="2"/></g>
<g id="n16-1-1"><text x="220" y="1688.1">行程编码</text><path d="M216.3 1691.7H250"/></g>
<g id="n16-1-2"><text x="220" y="1701.4">JPEG</text><path d="M216.3 1705H236.7"/></g>
<g id="n16-1-3"><text x="220" y="1714.7">MPEG</text><path d="M216.3 1718.3H254"/><circle class="d" cx="245.7" cy="1712.3" r="2"/></g>
<g id="n16-1-3-1"><text x="256" y="1714.7">参考帧</text><path d="M254 1718.3H278.3"/></g>
<g id="n16-2"><text x="190.7" y="1728.1">汇编</text><path d="M187 1731.7H204"/></g>
<g id="n16-3"><text x="190.7" y="1740.7">编译器</text><path d="M187 1744.3H210"/></g>
</g>
<text x="338" y="1745.5" style="font-size:7px;fill:#e4e4e4">https://blog.csdn.net/zhangchuan2012</text>
</svg>
